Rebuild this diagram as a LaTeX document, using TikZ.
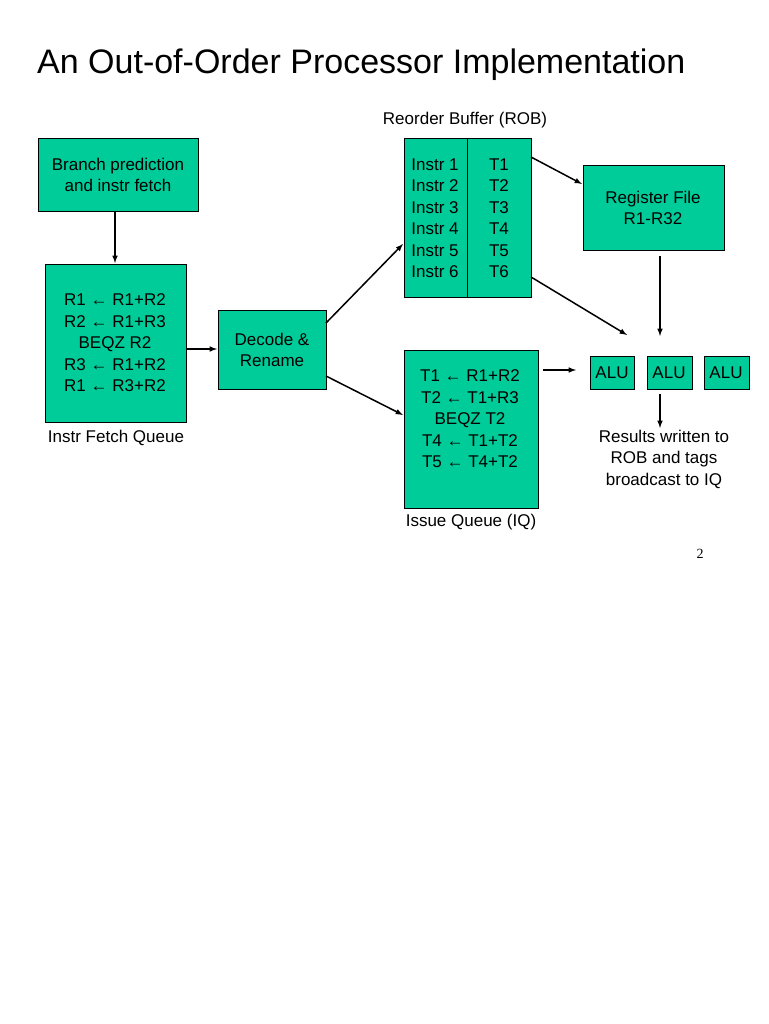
\documentclass[tikz,border=0pt]{standalone}
\usepackage{fontspec}
\setmainfont{Liberation Sans}
\begin{document}
\begin{tikzpicture}[x=1pt,y=-1pt,
 box/.style={draw=black,fill=green1,line width=0.8pt},
 txt/.style={font=\fontsize{17}{21.5}\selectfont,align=center,inner sep=0pt},
 arr/.style={-latex,line width=1.5pt}]
\definecolor{green1}{RGB}{0,204,153}
\useasboundingbox[fill=white] (0,0) rectangle (768,1024);
\node[anchor=base west,inner sep=0pt,font=\fontsize{34}{40}\selectfont] (title) at (37,74) {An Out-of-Order Processor Implementation};
% boxes
\draw[box] (38,138) rectangle (198,211);
\node[txt] (bp) at (118,175) {Branch prediction\\and instr fetch};
\draw[box] (45,264) rectangle (186,422);
\node[txt] (ifq) at (115,343) {R1 ← R1+R2\\R2 ← R1+R3\\BEQZ R2\\R3 ← R1+R2\\R1 ← R3+R2};
\node[txt] (ifql) at (116,438) {Instr Fetch Queue};
\draw[box] (218,310) rectangle (326,389);
\node[txt] (dec) at (272,350) {Decode \&\\Rename};
\draw[box] (404,138) rectangle (531,297);
\draw[line width=0.8pt] (467,138) -- (467,297);
\node[txt] (robl) at (465,120) {Reorder Buffer (ROB)};
\node[txt] (roba) at (435,218) {Instr 1\\Instr 2\\Instr 3\\Instr 4\\Instr 5\\Instr 6};
\node[txt] (robb) at (499,218) {T1\\T2\\T3\\T4\\T5\\T6};
\draw[box] (583,165) rectangle (724,250);
\node[txt] (rf) at (653,208) {Register File\\R1-R32};
\draw[box] (404,350) rectangle (538,508);
\node[txt] (iq) at (470,419) {T1 ← R1+R2\\T2 ← T1+R3\\BEQZ T2\\T4 ← T1+T2\\T5 ← T4+T2};
\node[txt] (iql) at (471,522) {Issue Queue (IQ)};
\draw[box] (590,356) rectangle (634,389);
\node[txt] (a1) at (612,373) {ALU};
\draw[box] (647,356) rectangle (692,389);
\node[txt] (a2) at (669,373) {ALU};
\draw[box] (704,356) rectangle (749,389);
\node[txt] (a3) at (726,373) {ALU};
\node[txt] (res) at (664,459) {Results written to\\ROB and tags\\broadcast to IQ};
\node[font=\fontsize{14}{16}\selectfont\rmfamily,inner sep=0pt] (pg) at (700,554) {\fontspec{Liberation Serif}2};
% arrows
\coordinate (p1) at (115,211); \coordinate (p2) at (115,263);
\draw[arr] (p1) -- (p2);
\coordinate (p3) at (186,349); \coordinate (p4) at (217,349);
\draw[arr] (p3) -- (p4);
\coordinate (p5) at (326,323); \coordinate (p6) at (403,244);
\draw[arr] (p5) -- (p6);
\coordinate (p7) at (326,376); \coordinate (p8) at (403,415);
\draw[arr] (p7) -- (p8);
\coordinate (p9) at (531,157); \coordinate (p10) at (582,184);
\draw[arr] (p9) -- (p10);
\coordinate (p11) at (660,256); \coordinate (p12) at (660,336);
\draw[arr] (p11) -- (p12);
\coordinate (p13) at (531,277); \coordinate (p14) at (627,335);
\draw[arr] (p13) -- (p14);
\coordinate (p15) at (543,370); \coordinate (p16) at (576,370);
\draw[arr] (p15) -- (p16);
\coordinate (p17) at (660,394); \coordinate (p18) at (660,428);
\draw[arr] (p17) -- (p18);
\end{tikzpicture}
\end{document}
